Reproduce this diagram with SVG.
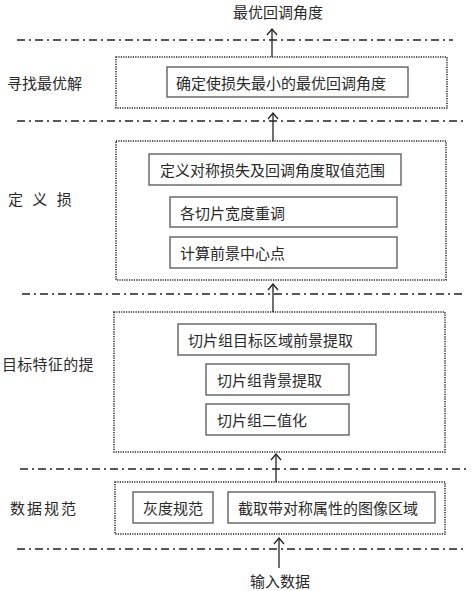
<svg xmlns="http://www.w3.org/2000/svg" width="474" height="591" viewBox="0 0 474 591">
<defs>
<style>
text{font-family:"Noto Sans CJK SC","Liberation Serif",sans-serif;font-size:15px;fill:#2a2a2a;dominant-baseline:central}
.sep{stroke:#222;stroke-width:1.5;stroke-dasharray:8 4 2 4;fill:none}
.outer{fill:none;stroke:#222;stroke-width:1.5;stroke-dasharray:1.2 1.2}
.inner{fill:#fff;stroke:#555;stroke-width:1.3}
.conn{stroke:#222;stroke-width:1.3;fill:none}
</style>
<marker id="arr" viewBox="0 0 12 12" refX="11" refY="6" markerWidth="12" markerHeight="12" markerUnits="userSpaceOnUse" orient="auto">
<path d="M5,1 L11,6 L5,11" fill="none" stroke="#222" stroke-width="1.3"/>
</marker>
</defs>
<rect width="474" height="591" fill="#fff"/>
<g id="separators">
<line class="sep" x1="17" y1="40" x2="453" y2="40"/>
<line class="sep" x1="17" y1="121" x2="466" y2="121"/>
<line class="sep" x1="22" y1="294" x2="466" y2="294"/>
<line class="sep" x1="20" y1="469" x2="466" y2="469"/>
<line class="sep" x1="17" y1="549" x2="466" y2="549"/>
</g>
<g id="labels">
<text x="7" y="82">寻找最优解</text>
<text x="8" y="198" letter-spacing="3">定 义 损</text>
<text x="2" y="363" letter-spacing="0.3">目标特征的提</text>
<text x="10" y="507" letter-spacing="2">数据规范</text>
<text x="233" y="11">最优回调角度</text>
<text x="250" y="580">输入数据</text>
</g>
<g id="stage1">
<rect class="outer" x="116" y="57" width="331" height="51"/>
<g id="n1"><rect class="inner" x="167" y="67" width="241" height="30"/><text x="176" y="82">确定使损失最小的最优回调角度</text></g>
</g>
<g id="stage2">
<rect class="outer" x="116" y="141" width="330" height="139"/>
<g id="n2"><rect class="inner" x="149" y="154" width="252" height="31"/><text x="160" y="169.5">定义对称损失及回调角度取值范围</text></g>
<g id="n3"><rect class="inner" x="170" y="197" width="227" height="30"/><text x="180" y="212">各切片宽度重调</text></g>
<g id="n4"><rect class="inner" x="170" y="237" width="227" height="31"/><text x="180" y="252.5">计算前景中心点</text></g>
</g>
<g id="stage3">
<rect class="outer" x="114" y="312" width="331" height="140"/>
<g id="n5"><rect class="inner" x="178" y="324" width="198" height="31"/><text x="188" y="339.5">切片组目标区域前景提取</text></g>
<g id="n6"><rect class="inner" x="206" y="364" width="143" height="31"/><text x="217" y="379.5">切片组背景提取</text></g>
<g id="n7"><rect class="inner" x="206" y="404" width="143" height="31"/><text x="217" y="419.5">切片组二值化</text></g>
</g>
<g id="stage4">
<rect class="outer" x="115" y="482" width="330" height="52"/>
<g id="n8"><rect class="inner" x="133" y="492" width="80" height="31"/><text x="143" y="507.5">灰度规范</text></g>
<g id="n9"><rect class="inner" x="228" y="492" width="207" height="31"/><text x="238" y="507.5">截取带对称属性的图像区域</text></g>
</g>
<g id="connectors">
<line class="conn" x1="279" y1="568" x2="279" y2="538" marker-end="url(#arr)"/>
<line class="conn" x1="276" y1="482" x2="276" y2="454" marker-end="url(#arr)"/>
<line class="conn" x1="273" y1="312" x2="273" y2="284" marker-end="url(#arr)"/>
<line class="conn" x1="273" y1="141" x2="273" y2="113" marker-end="url(#arr)"/>
<line class="conn" x1="272" y1="57" x2="272" y2="29" marker-end="url(#arr)"/>
</g>
</svg>
